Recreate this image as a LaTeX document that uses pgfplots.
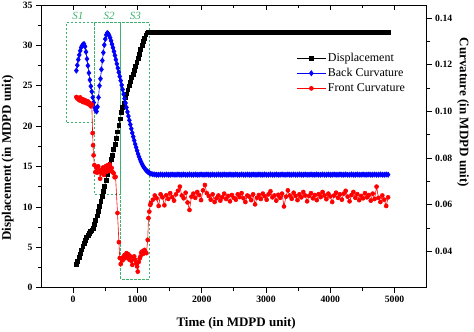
\documentclass[border=0pt]{standalone}
\usepackage{fontspec}
\setmainfont{Liberation Serif}
\usepackage{pgfplots}
\pgfplotsset{compat=1.18}
\usepackage{pgfplotstable}
\definecolor{boxgreen}{RGB}{60,178,110}

% Displacement, early part
\pgfplotstableread{
t d
50 2.9
70 3.3
90 3.75
110 4.2
130 4.7
150 5.1
170 5.5
190 5.85
210 6.2
230 6.5
250 6.75
270 6.95
290 7.1
310 7.35
330 7.8
350 8.3
370 8.9
390 9.5
410 10.1
430 10.7
450 11.3
470 11.9
490 12.6
510 13.3
530 14.0
550 14.7
570 15.3
590 15.9
610 16.4
630 17.1
650 17.8
670 18.5
690 19.3
710 20.1
730 20.9
750 21.7
770 22.3
790 22.9
810 23.5
830 24.0
850 24.5
870 25.0
890 25.5
910 26.0
930 26.4
950 26.9
970 27.4
990 27.9
1010 28.4
1030 28.9
1050 29.5
1070 30.0
1090 30.5
1110 30.9
1130 31.3
1150 31.55
1170 31.65
1190 31.65
}\dispE

% Back curvature, early part
\pgfplotstableread{
t b
50 0.1175
65 0.1198
80 0.1222
95 0.1242
110 0.1260
125 0.1274
140 0.1282
155 0.1287
170 0.1289
185 0.1278
200 0.1255
215 0.1225
230 0.1196
245 0.1165
260 0.1135
275 0.1108
290 0.1085
305 0.1060
320 0.1038
335 0.1015
350 0.1004
365 0.1000
380 0.1020
395 0.1060
410 0.1110
425 0.1140
440 0.1180
455 0.1218
470 0.1252
485 0.1285
500 0.1310
515 0.1328
530 0.1336
545 0.1333
560 0.1326
575 0.1316
590 0.1303
605 0.1288
620 0.1273
635 0.1257
650 0.1240
665 0.1222
680 0.1204
695 0.1186
710 0.1168
725 0.1150
740 0.1132
755 0.1113
770 0.1094
785 0.1074
800 0.1055
815 0.1036
830 0.1017
845 0.0998
860 0.0980
875 0.0962
890 0.0944
905 0.0926
920 0.0908
935 0.0892
950 0.0876
965 0.0860
980 0.0846
995 0.0832
1010 0.0818
1025 0.0806
1040 0.0795
1055 0.0785
1070 0.0776
1085 0.0768
1100 0.0761
1115 0.0755
1130 0.0750
1145 0.0746
1160 0.0742
1175 0.0739
1190 0.0736
}\backE

% Front curvature, early part
\pgfplotstableread{
t f
50 0.1062
65 0.1055
80 0.1058
95 0.1048
110 0.1060
125 0.1045
140 0.1053
155 0.1040
170 0.1050
185 0.1038
200 0.1046
215 0.1034
230 0.1043
245 0.1030
260 0.1036
275 0.1022
290 0.1030
303 0.0907
310 0.0855
318 0.0812
330 0.0770
345 0.0740
360 0.0762
375 0.0738
390 0.0765
405 0.0745
420 0.0712
435 0.0750
450 0.0735
465 0.0760
480 0.0728
495 0.0748
510 0.0766
525 0.0742
540 0.0770
555 0.0752
570 0.0773
585 0.0745
600 0.0758
615 0.0740
630 0.0735
645 0.0718
660 0.0720
690 0.0565
712 0.0440
725 0.0372
740 0.0346
755 0.0370
770 0.0362
785 0.0379
800 0.0385
815 0.0372
830 0.0393
845 0.0380
860 0.0388
875 0.0365
890 0.0379
905 0.0360
920 0.0343
935 0.0375
950 0.0379
965 0.0365
980 0.0350
995 0.0336
1005 0.0314
1020 0.0355
1035 0.0370
1047 0.0379
1060 0.0395
1073 0.0400
1090 0.0390
1109 0.0407
1125 0.0398
1140 0.0393
1160 0.0450
1172 0.0543
1185 0.0571
1200 0.0600
}\frontE

% Steady part of all three series
\pgfplotstableread{
t d b f
1210 31.65 0.0733 0.0608
1240 31.66 0.0731 0.0622
1270 31.65 0.0730 0.0640
1300 31.64 0.0729 0.0628
1330 31.65 0.0729 0.0595
1360 31.66 0.0730 0.0645
1390 31.65 0.0729 0.0632
1420 31.64 0.0729 0.0598
1450 31.65 0.0730 0.0641
1480 31.66 0.0729 0.0625
1510 31.65 0.0729 0.0650
1540 31.65 0.0730 0.0633
1570 31.64 0.0729 0.0618
1600 31.65 0.0729 0.0645
1630 31.66 0.0730 0.0660
1660 31.65 0.0729 0.0678
1690 31.65 0.0729 0.0640
1720 31.64 0.0730 0.0628
1750 31.65 0.0729 0.0652
1780 31.66 0.0729 0.0610
1810 31.65 0.0730 0.0578
1840 31.65 0.0729 0.0635
1870 31.64 0.0729 0.0648
1900 31.65 0.0730 0.0630
1930 31.66 0.0729 0.0655
1960 31.65 0.0729 0.0642
1990 31.65 0.0730 0.0620
2020 31.64 0.0729 0.0662
2050 31.65 0.0729 0.0685
2080 31.66 0.0730 0.0650
2110 31.65 0.0729 0.0638
2140 31.65 0.0729 0.0622
2170 31.64 0.0730 0.0645
2200 31.65 0.0729 0.0612
2230 31.66 0.0729 0.0628
2260 31.65 0.0730 0.0640
2290 31.65 0.0729 0.0618
2320 31.64 0.0729 0.0632
2350 31.65 0.0730 0.0648
2380 31.66 0.0729 0.0625
2410 31.65 0.0729 0.0638
2440 31.65 0.0730 0.0615
2470 31.64 0.0729 0.0642
2500 31.65 0.0729 0.0630
2530 31.66 0.0730 0.0622
2560 31.65 0.0729 0.0645
2590 31.65 0.0729 0.0633
2620 31.64 0.0730 0.0650
2650 31.65 0.0729 0.0628
2680 31.66 0.0729 0.0612
2710 31.65 0.0730 0.0640
2740 31.65 0.0729 0.0635
2770 31.64 0.0729 0.0620
2800 31.65 0.0730 0.0645
2830 31.66 0.0729 0.0602
2860 31.65 0.0729 0.0630
2890 31.65 0.0730 0.0642
2920 31.64 0.0729 0.0625
2950 31.65 0.0729 0.0648
2980 31.66 0.0730 0.0637
3010 31.65 0.0729 0.0622
3040 31.65 0.0729 0.0645
3070 31.64 0.0730 0.0658
3100 31.65 0.0729 0.0632
3130 31.66 0.0729 0.0640
3160 31.65 0.0730 0.0618
3190 31.65 0.0729 0.0643
3220 31.64 0.0729 0.0630
3250 31.65 0.0730 0.0648
3280 31.66 0.0729 0.0593
3310 31.65 0.0729 0.0635
3340 31.65 0.0730 0.0662
3370 31.64 0.0729 0.0640
3400 31.65 0.0729 0.0626
3430 31.66 0.0730 0.0652
3460 31.65 0.0729 0.0638
3490 31.65 0.0729 0.0620
3520 31.64 0.0730 0.0645
3550 31.65 0.0729 0.0632
3580 31.66 0.0729 0.0655
3610 31.65 0.0730 0.0640
3640 31.65 0.0729 0.0615
3670 31.64 0.0729 0.0638
3700 31.65 0.0730 0.0650
3730 31.66 0.0729 0.0628
3760 31.65 0.0729 0.0642
3790 31.65 0.0730 0.0620
3820 31.64 0.0729 0.0646
3850 31.65 0.0729 0.0633
3880 31.66 0.0730 0.0655
3910 31.65 0.0729 0.0640
3940 31.65 0.0729 0.0624
3970 31.64 0.0730 0.0648
4000 31.65 0.0729 0.0636
4030 31.66 0.0729 0.0612
4060 31.65 0.0730 0.0640
4090 31.65 0.0729 0.0652
4120 31.64 0.0729 0.0630
4150 31.65 0.0730 0.0645
4180 31.66 0.0729 0.0622
4210 31.65 0.0729 0.0648
4240 31.65 0.0730 0.0660
4270 31.64 0.0729 0.0635
4300 31.65 0.0729 0.0615
4330 31.66 0.0730 0.0642
4360 31.65 0.0729 0.0655
4390 31.65 0.0729 0.0630
4420 31.64 0.0730 0.0646
4450 31.65 0.0729 0.0620
4480 31.66 0.0729 0.0638
4510 31.65 0.0730 0.0628
4540 31.65 0.0729 0.0650
4570 31.64 0.0729 0.0632
4600 31.65 0.0730 0.0642
4630 31.66 0.0729 0.0618
4660 31.65 0.0729 0.0648
4690 31.65 0.0730 0.0625
4720 31.64 0.0729 0.0678
4750 31.65 0.0729 0.0630
4780 31.66 0.0730 0.0612
4810 31.65 0.0729 0.0640
4840 31.65 0.0729 0.0622
4870 31.64 0.0730 0.0595
4900 31.65 0.0729 0.0632
}\steady

\pgfplotsset{
  common/.style={
    at={(0,0)}, anchor=south west, scale only axis,
    width=385.7pt, height=282.7pt,
    xmin=-500, xmax=5500,
    xtick={0,1000,...,5000}, minor x tick num=1,
    major tick length=5pt, minor tick length=3pt,
    axis line style={line width=0.9pt},
    every tick/.style={line width=0.8pt, black},
    every minor tick/.style={line width=0.8pt, black},
    ticklabel style={font=\fontsize{9.7}{11}\selectfont\bfseries},
    /pgf/number format/assume math mode=true,
    /pgf/number format/1000 sep={},
    scaled x ticks=false,
    label style={font=\fontsize{13}{15}\selectfont\bfseries},
  }
}

\begin{document}
\begin{tikzpicture}
\useasboundingbox (-41pt,-44.3pt) rectangle (433pt,287.7pt);
% left axis + bottom axis
\begin{axis}[common,
  ymin=0, ymax=35, ytick={0,5,...,35}, minor y tick num=1,
  axis x line*=bottom, axis y line*=left,
  tick align=outside,
  xlabel={Time (in MDPD unit)},
  ylabel={Displacement (in MDPD unit)},
  xlabel style={at={(axis description cs:0.506,-0.125)}, anchor=center},
  ylabel style={at={(axis description cs:-0.086,0.46)}, anchor=center},
]
\addplot[black, line width=0.6pt, mark=square*, mark size=1.9pt, mark options={solid}] table[x=t,y=d] {\dispE};
\addplot[black, line width=0.6pt, mark=square*, mark size=1.9pt, mark options={solid}] table[x=t,y=d] {\steady};
% stage boxes
\draw[boxgreen, line width=0.8pt, dash pattern=on 2.5pt off 1.5pt] (axis cs:-109,20.5) rectangle (axis cs:331,32.8);
\draw[boxgreen, line width=0.8pt, dash pattern=on 2.5pt off 1.5pt] (axis cs:331,32.8) -- (axis cs:331,11.56) -- (axis cs:740,11.56);
\draw[boxgreen, line width=0.8pt] (axis cs:740,32.8) -- (axis cs:740,11.56);
\draw[boxgreen, line width=0.8pt, dash pattern=on 2.5pt off 1.5pt] (axis cs:331,32.8) -- (axis cs:1187,32.8) -- (axis cs:1187,1.08) -- (axis cs:740,1.08) -- (axis cs:740,11.56);
\node[boxgreen, font=\fontsize{11}{12}\selectfont\itshape] at (axis cs:72,33.6) {S1};
\node[boxgreen, font=\fontsize{11}{12}\selectfont\itshape] at (axis cs:560,33.6) {S2};
\node[boxgreen, font=\fontsize{11}{12}\selectfont\itshape] at (axis cs:969,33.6) {S3};
\end{axis}
% top axis ticks (inside)
\begin{axis}[common,
  ymin=0, ymax=35,
  axis x line*=top, axis y line=none,
  tick align=inside, xticklabels={},
]
\end{axis}
% right axis
\begin{axis}[common,
  ymin=0.0245, ymax=0.1456,
  ytick={0.04,0.06,...,0.141}, minor y tick num=1,
  axis y line*=right, axis x line=none,
  tick align=outside,
  scaled y ticks=false,
  yticklabel style={/pgf/number format/.cd, fixed, fixed zerofill, precision=2},
  ylabel={Curvature (in MDPD unit)},
  ylabel style={at={(axis description cs:1.094,0.62)}, anchor=center, rotate=180},
  legend style={at={(axis description cs:0.655,0.845)}, anchor=north west,
    draw=none, fill=none, font=\fontsize{12}{14}\selectfont, row sep=1.5pt},
  legend cell align=left,
  legend image code/.code={\draw[mark repeat=2,mark phase=2,#1] plot coordinates {(0cm,0cm) (0.5cm,0cm) (1cm,0cm)};},
]
\addlegendimage{black, line width=0.6pt, mark=square*, mark size=1.9pt, mark options={solid}}
\addlegendentry{Displacement}
\addplot[blue, line width=0.6pt, mark=diamond*, mark size=2.6pt, mark options={solid}] table[x=t,y=b] {\backE};
\addlegendentry{Back Curvature}
\addplot[red, line width=0.6pt, mark=*, mark size=2pt, mark options={solid}] table[x=t,y=f] {\frontE};
\addlegendentry{Front Curvature}
\addplot[forget plot, blue, line width=0.6pt, mark=diamond*, mark size=2.6pt, mark options={solid}] table[x=t,y=b] {\steady};
\addplot[forget plot, red, line width=0.6pt, mark=*, mark size=2pt, mark options={solid}] table[x=t,y=f] {\steady};
\end{axis}
\end{tikzpicture}
\end{document}
